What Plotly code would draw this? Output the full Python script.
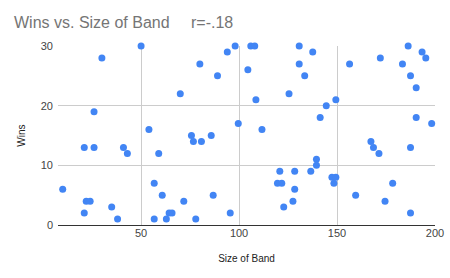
import plotly.graph_objects as go

size_of_band = [10, 30, 26, 21, 26, 41, 43, 22, 24, 21, 35, 38, 50, 54,
                94, 98, 106, 108, 80, 104.5, 89, 70, 108.6, 125.5, 99.6, 111.7,
                75.7, 85.8, 76.7, 80.8, 59, 56.7, 120.8, 119.6, 121.8, 60.8, 86.8,
                71.8, 122.8, 64.3, 65.8, 95.5, 56.7, 62.9, 77.9, 127.5,
                130.7, 137.6, 130.7, 133.5, 149.4, 144.5, 141.4, 156.4, 172.1,
                186.3, 193.4, 195.3, 183.4, 187.5, 190.4, 190.4, 198.3, 167.3,
                168.6, 187.5, 171.4, 139.5, 139.5, 128.4, 136.6, 147.4, 149.4,
                148.4, 178.4, 128.4, 159.5, 174.5, 187.5]
wins = [6, 28, 19, 13, 13, 13, 12, 4, 4, 2, 3, 1, 30, 16,
        29, 30, 30, 30, 27, 26, 25, 22, 21, 22, 17, 16,
        15, 15, 14, 14, 12, 7, 9, 7, 7, 5, 5,
        4, 3, 2, 2, 2, 1, 1, 1, 4,
        30, 29, 27, 25, 21, 20, 18, 27, 28,
        30, 29, 28, 27, 25, 23, 18, 17, 14,
        13, 13, 12, 11, 10, 9, 9, 8, 8,
        7, 7, 6, 5, 4, 2]

x_ticks = [50, 100, 150, 200]
y_ticks = [0, 10, 20, 30]

fig = go.Figure(go.Scatter(
    x=size_of_band, y=wins, mode="markers",
    marker=dict(size=7, color="#4285F4"),
    cliponaxis=False,
))

font = "Liberation Sans, Arial, sans-serif"
fig.update_layout(
    width=450, height=278,
    margin=dict(l=58, r=15, t=46, b=53),
    paper_bgcolor="white", plot_bgcolor="white",
    showlegend=False,
    font=dict(family=font, size=11, color="#444444"),
    title=dict(text="Wins vs. Size of Band", x=14/450, xanchor="left",
               y=1 - 22.5/278, yanchor="middle",
               font=dict(family=font, size=16, color="#757575")),
    annotations=[dict(text="r=-.18", xref="paper", yref="paper",
                      x=(189 - 58) / 377, xanchor="left",
                      y=1 + (46 - 22.5) / 179, yanchor="middle",
                      showarrow=False,
                      font=dict(family=font, size=16, color="#757575"))],
    xaxis=dict(range=[7.6, 200], tickvals=x_ticks, showgrid=True,
               automargin=False,
               gridcolor="#cccccc", gridwidth=1, zeroline=False,
               showline=False, ticks="", tickfont=dict(size=11, color="#444444"),
               title=dict(text="Size of Band", standoff=16,
                          font=dict(size=10, color="#222222"))),
    yaxis=dict(range=[0, 30], tickvals=y_ticks, showgrid=True,
               automargin=False,
               gridcolor="#cccccc", gridwidth=1, zeroline=True,
               zerolinecolor="#333333", zerolinewidth=1,
               showline=False, ticks="", ticklabelstandoff=4,
               tickfont=dict(size=11, color="#444444"),
               title=dict(text="Wins", standoff=13,
                          font=dict(size=10, color="#222222"))),
)

fig.write_html("out.html")
